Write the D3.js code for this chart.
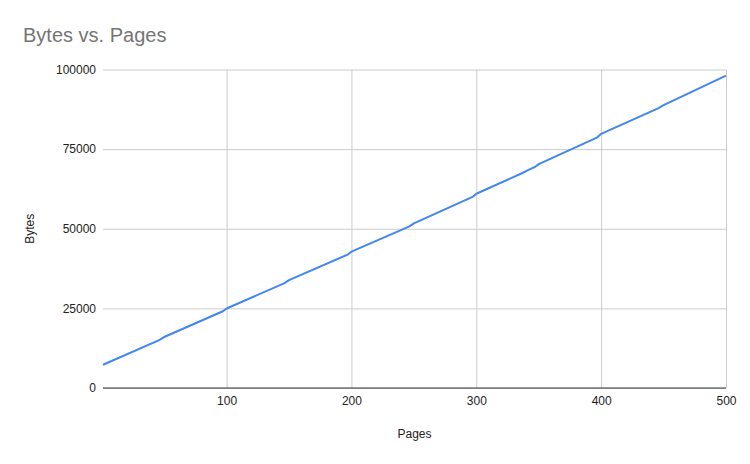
<!DOCTYPE html>
<html>
<head>
<meta charset="utf-8">
<script src="https://cdn.jsdelivr.net/npm/d3@7"></script>
<style>
  html, body { margin: 0; padding: 0; background: #fff; }
  svg { display: block; font-family: Arial, "Liberation Sans", sans-serif; }
</style>
</head>
<body>
<svg id="chart" width="750" height="464"></svg>
<script>
const title = "Bytes vs. Pages";
const xTitle = "Pages";
const yTitle = "Bytes";
const pages = [1, 46, 50, 97, 100, 146, 150, 197, 200, 246, 250, 297, 300, 337, 341, 347, 350, 397, 400, 446, 450, 500];
const bytes = [7300, 15040, 16000, 24100, 24950, 32850, 33850, 41900, 42800, 50650, 51700, 60000, 61000, 67500, 68300, 69400, 70300, 78700, 79800, 87900, 88800, 98100];
const xTicks = [100, 200, 300, 400, 500];
const yTicks = [0, 25000, 50000, 75000, 100000];

const svg = d3.select("#chart");
const m = { left: 103, right: 726, top: 69.5, bottom: 388 };

const x = d3.scaleLinear().domain([1, 500]).range([m.left, m.right]);
const y = d3.scaleLinear().domain([0, 100000]).range([m.bottom, m.top]);

svg.append("rect").attr("width", 750).attr("height", 464).attr("fill", "#fff");

// title
svg.append("text").attr("x", 23).attr("y", 42)
  .attr("font-size", 20).attr("fill", "#757575").text(title);

// horizontal grid + y axis labels
const yAxis = d3.axisLeft(y).tickValues(yTicks).tickSize(-(m.right - m.left)).tickPadding(7).tickFormat(d3.format("d"));
const gy = svg.append("g").attr("transform", `translate(${m.left},0)`).call(yAxis);
gy.select(".domain").remove();
gy.selectAll(".tick line").attr("stroke", "#cccccc").attr("stroke-width", 1);
gy.selectAll(".tick text").attr("font-size", 12).attr("fill", "#222").attr("font-family", "Arial, 'Liberation Sans', sans-serif");

// vertical grid + x axis labels
const xAxis = d3.axisBottom(x).tickValues(xTicks).tickSize(-(m.bottom - m.top)).tickPadding(8).tickFormat(d3.format("d"));
const gx = svg.append("g").attr("transform", `translate(0,${m.bottom})`).call(xAxis);
gx.select(".domain").remove();
gx.selectAll(".tick line").attr("stroke", "#cccccc").attr("stroke-width", 1);
gx.selectAll(".tick text").attr("font-size", 12).attr("fill", "#222").attr("font-family", "Arial, 'Liberation Sans', sans-serif");

// baseline
svg.append("line").attr("x1", m.left).attr("x2", m.right)
  .attr("y1", y(0)).attr("y2", y(0)).attr("stroke", "#333").attr("stroke-width", 1);

// data line
const data = pages.map((p, i) => ({ p, b: bytes[i] }));
svg.append("path").datum(data)
  .attr("fill", "none").attr("stroke", "#4285f4").attr("stroke-width", 2)
  .attr("stroke-linejoin", "round")
  .attr("d", d3.line().x(d => x(d.p)).y(d => y(d.b)));

// axis titles
svg.append("text").attr("x", (m.left + m.right) / 2).attr("y", 438)
  .attr("text-anchor", "middle").attr("font-size", 12).attr("fill", "#222").text(xTitle);
svg.append("text").attr("transform", `translate(34,${(m.top + m.bottom) / 2}) rotate(-90)`)
  .attr("text-anchor", "middle").attr("font-size", 12).attr("fill", "#222").text(yTitle);
</script>
</body>
</html>
